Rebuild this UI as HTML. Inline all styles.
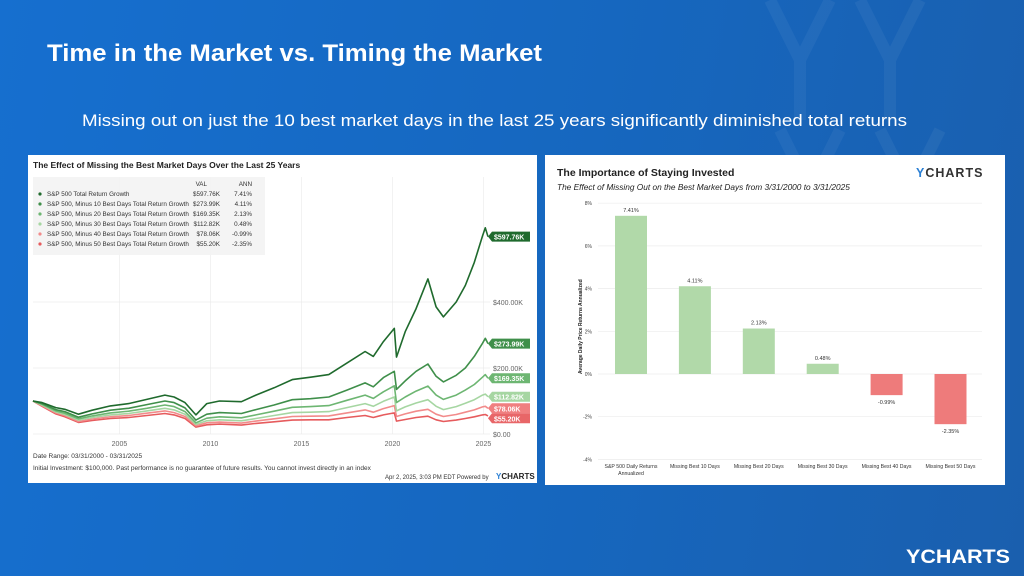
<!DOCTYPE html>
<html><head><meta charset="utf-8">
<style>
body{margin:0;width:1024px;height:576px;overflow:hidden;background:linear-gradient(100deg,#166fcf 0%,#1667bf 55%,#1a5fae 100%);font-family:"Liberation Sans",sans-serif;}
svg{position:absolute;left:0;top:0}
</style></head>
<body>
<svg width="1024" height="576" id="s">
  <g opacity="0.05" fill="none" stroke="#ffffff" stroke-width="12">
    <path d="M770 0 L800 60 L830 0 M860 0 L890 60 L920 0 M800 60 L800 120 M890 60 L890 120 M780 130 L810 190 L840 130 M880 130 L910 190 L940 130"/>
  </g>
  <text x="47" y="61" fill="#fff" font-size="24" font-weight="bold" textLength="495" lengthAdjust="spacingAndGlyphs">Time in the Market vs. Timing the Market</text>
  <text x="82" y="126" fill="#fff" font-size="17" textLength="825" lengthAdjust="spacingAndGlyphs">Missing out on just the 10 best market days in the last 25 years significantly diminished total returns</text>

  <rect x="28" y="155" width="509" height="328" fill="#fff"/>
  <text x="33" y="168" font-size="8.5" font-weight="bold" fill="#222">The Effect of Missing the Best Market Days Over the Last 25 Years</text>
  <g id="lc"></g>
  <rect x="33" y="177" width="232" height="78" fill="#f3f3f3" opacity="0.9"/>
  <g id="leg" font-size="6.3" fill="#333"></g>
  <text x="33" y="458" font-size="6.5" fill="#333">Date Range: 03/31/2000 - 03/31/2025</text>
  <text x="33" y="470" font-size="6.5" fill="#333">Initial Investment: $100,000. Past performance is no guarantee of future results. You cannot invest directly in an index</text>
  <text x="385" y="479" font-size="6" fill="#333">Apr 2, 2025, 3:03 PM EDT Powered by</text>
  <text x="496" y="479" font-size="8" font-weight="bold" fill="#222"><tspan fill="#2a7fd4">Y</tspan>CHARTS</text>

  <rect x="545" y="155" width="460" height="330" fill="#fff"/>
  <text x="557" y="176" font-size="10.5" font-weight="bold" fill="#222">The Importance of Staying Invested</text>
  <text x="557" y="190" font-size="8.3" font-style="italic" fill="#222">The Effect of Missing Out on the Best Market Days from 3/31/2000 to 3/31/2025</text>
  <text x="916" y="177" font-size="12.5" font-weight="bold" fill="#333" letter-spacing="1"><tspan fill="#2a7fd4">Y</tspan>CHARTS</text>
  <text transform="translate(582,374) rotate(-90)" font-size="5" font-weight="bold" fill="#222">Average Daily Price Returns Annualized</text>
  <g id="bc"></g>

  <text x="906" y="563" fill="#fff" font-size="19" font-weight="bold" textLength="104" lengthAdjust="spacingAndGlyphs">YCHARTS</text>
</svg>
<script>
const years=[2000.25,2000.75,2001.5,2002.0,2002.75,2003.5,2004.5,2005.5,2006.5,2007.5,2008.0,2008.6,2009.2,2009.8,2010.5,2011.7,2012.5,2013.5,2014.5,2015.5,2016.5,2017.5,2018.5,2018.95,2019.5,2020.1,2020.22,2020.7,2021.3,2021.95,2022.4,2022.8,2023.5,2024.0,2024.5,2024.95,2025.1,2025.25];
const sp500=[100,95,80,75,60,72,85,92,105,118,112,95,58,92,100,98,118,140,165,172,180,215,250,235,280,320,233,310,380,470,385,355,400,450,520,600,625,598];
const minus10=[100,92,74,68,51,61,72,78,89,100,95,79,42,60,65,62,74,88,104,107,112,133,155,143,171,190,135,161,190,212,175,158,178,200,235,275,290,274];
const minus20=[100,90,70,63,46,55,64,69,78,88,83,68,34,48,52,49,58,69,81,83,86,102,118,108,128,146,95,112,130,145,118,105,118,133,150,172,180,169];
const minus30=[100,88,67,59,42,50,58,62,70,78,73,60,29,40,43,40,47,56,65,66,68,80,92,84,99,112,70,82,94,104,84,74,83,93,104,118,121,113];
const minus40=[100,86,64,56,38,45,52,56,63,70,65,53,25,34,36,33,39,46,53,54,55,64,73,66,77,86,53,61,69,75,60,53,59,66,73,82,84,78];
const minus50=[100,84,61,52,35,41,47,50,56,62,58,47,21,28,30,27,32,37,42,43,43,50,56,50,58,64,39,44,50,54,43,38,42,47,52,58,59,55];
const seriesNames=["S&P 500 Total Return Growth","S&P 500, Minus 10 Best Days Total Return Growth","S&P 500, Minus 20 Best Days Total Return Growth","S&P 500, Minus 30 Best Days Total Return Growth","S&P 500, Minus 40 Best Days Total Return Growth","S&P 500, Minus 50 Best Days Total Return Growth"];
const endVals=["$597.76K","$273.99K","$169.35K","$112.82K","$78.06K","$55.20K"];
const annVals=["7.41%","4.11%","2.13%","0.48%","-0.99%","-2.35%"];
const yTicks=[0,200,400];
const yTickLabels=["$0.00","$200.00K","$400.00K"];
const xTicks=[2005,2010,2015,2020,2025];
const barCats=[["S&P 500 Daily Returns","Annualized"],["Missing Best 10 Days"],["Missing Best 20 Days"],["Missing Best 30 Days"],["Missing Best 40 Days"],["Missing Best 50 Days"]];
const barVals=[7.41,4.11,2.13,0.48,-0.99,-2.35];
const barTicks=[8,6,4,2,0,-2,-4];

const NS="http://www.w3.org/2000/svg";
function mk(p,t,a){const e=document.createElementNS(NS,t);for(const k in a)e.setAttribute(k,a[k]);p.appendChild(e);return e;}
const colors=["#1f6a2d","#3f8f4a","#6db672","#a6d6a2","#f28b8b","#e65b5d"];
const tagColors=["#1f6a2d","#3f8f4a","#6db672","#a6d6a2","#f07f80","#e86668"];
const lx=y=>33+(y-2000.25)/25*455;
const ly=v=>434-v*0.33;
const lc=document.getElementById('lc');
yTicks.forEach((t,i)=>{
  const g=mk(lc,'line',{x1:33,x2:490,y1:ly(t),y2:ly(t),stroke:"#ececec","stroke-width":0.7});
  
  
  const tx=mk(lc,'text',{x:493,y:ly(t)+3,"font-size":7,fill:"#666"});tx.textContent=yTickLabels[i];
  
  
});
xTicks.forEach(t=>{
  const g=mk(lc,'line',{x1:lx(t),x2:lx(t),y1:177,y2:434,stroke:"#ececec","stroke-width":0.7});
  
  
  const tx=mk(lc,'text',{x:lx(t),y:446,"font-size":7,fill:"#666","text-anchor":"middle"});tx.textContent=t;
  
  
});
const all=[sp500,minus10,minus20,minus30,minus40,minus50];
for(let s=5;s>=0;s--){
  const d=all[s].map((v,i)=>(i?"L":"M")+lx(years[i]).toFixed(1)+" "+ly(v).toFixed(1)).join(" ");
  const p=mk(lc,'path',{d:d,fill:"none",stroke:colors[s],"stroke-width":1.6,"stroke-linejoin":"round"});
  
  
}
let prevY=-100;
all.forEach((ser,s)=>{
  let y=ly(ser[ser.length-1]);
  if(y<prevY+10)y=prevY+10;prevY=y;
  const g=mk(lc,'g',{});
  
  
  mk(g,'path',{d:`M488 ${y} L492 ${y-5} L530 ${y-5} L530 ${y+5} L492 ${y+5} Z`,fill:tagColors[s]});
  const t=mk(g,'text',{x:494,y:y+3,"font-size":7,fill:"#fff","font-weight":"bold"});t.textContent=endVals[s];
});
const leg=document.getElementById('leg');
const h1=mk(leg,'text',{x:207,y:186,"text-anchor":"end"});h1.textContent="VAL";
const h2=mk(leg,'text',{x:252,y:186,"text-anchor":"end"});h2.textContent="ANN";
seriesNames.forEach((n,i)=>{
  const y=196+i*10;
  const g=mk(leg,'g',{});
  
  
  mk(g,'circle',{cx:40,cy:y-2,r:1.6,fill:colors[i]});
  const a=mk(g,'text',{x:47,y:y});a.textContent=n;
  const b=mk(g,'text',{x:220,y:y,"text-anchor":"end"});b.textContent=endVals[i];
  const c=mk(g,'text',{x:252,y:y,"text-anchor":"end"});c.textContent=annVals[i];
});
const bc=document.getElementById('bc');
const by=v=>374-v*21.35;
const bx=i=>631+i*63.9;
barTicks.forEach(t=>{
  const g=mk(bc,'line',{x1:598,x2:982,y1:by(t),y2:by(t),stroke:"#ececec","stroke-width":0.7});
  
  
  const tx=mk(bc,'text',{x:592,y:by(t)+2,"font-size":5,fill:"#444","text-anchor":"end"});tx.textContent=t+"%";
  
  
});
barVals.forEach((v,i)=>{
  const top=Math.min(by(v),by(0)),h=Math.abs(by(v)-by(0));
  const r=mk(bc,'rect',{x:bx(i)-16,y:top,width:32,height:h,fill:v>=0?"#b1d9a9":"#ee7b7b"});
  
  
  const t=mk(bc,'text',{x:bx(i),y:v>=0?by(v)-4:by(v)+9,"font-size":5.5,fill:"#333","text-anchor":"middle"});
  t.textContent=v.toFixed(2)+"%";
  
  
  barCats[i].forEach((ln,j)=>{
    const c=mk(bc,'text',{x:bx(i),y:468+j*7,"font-size":5.2,fill:"#333","text-anchor":"middle"});c.textContent=ln;
    
    
  });
});
</script>
</body></html>
